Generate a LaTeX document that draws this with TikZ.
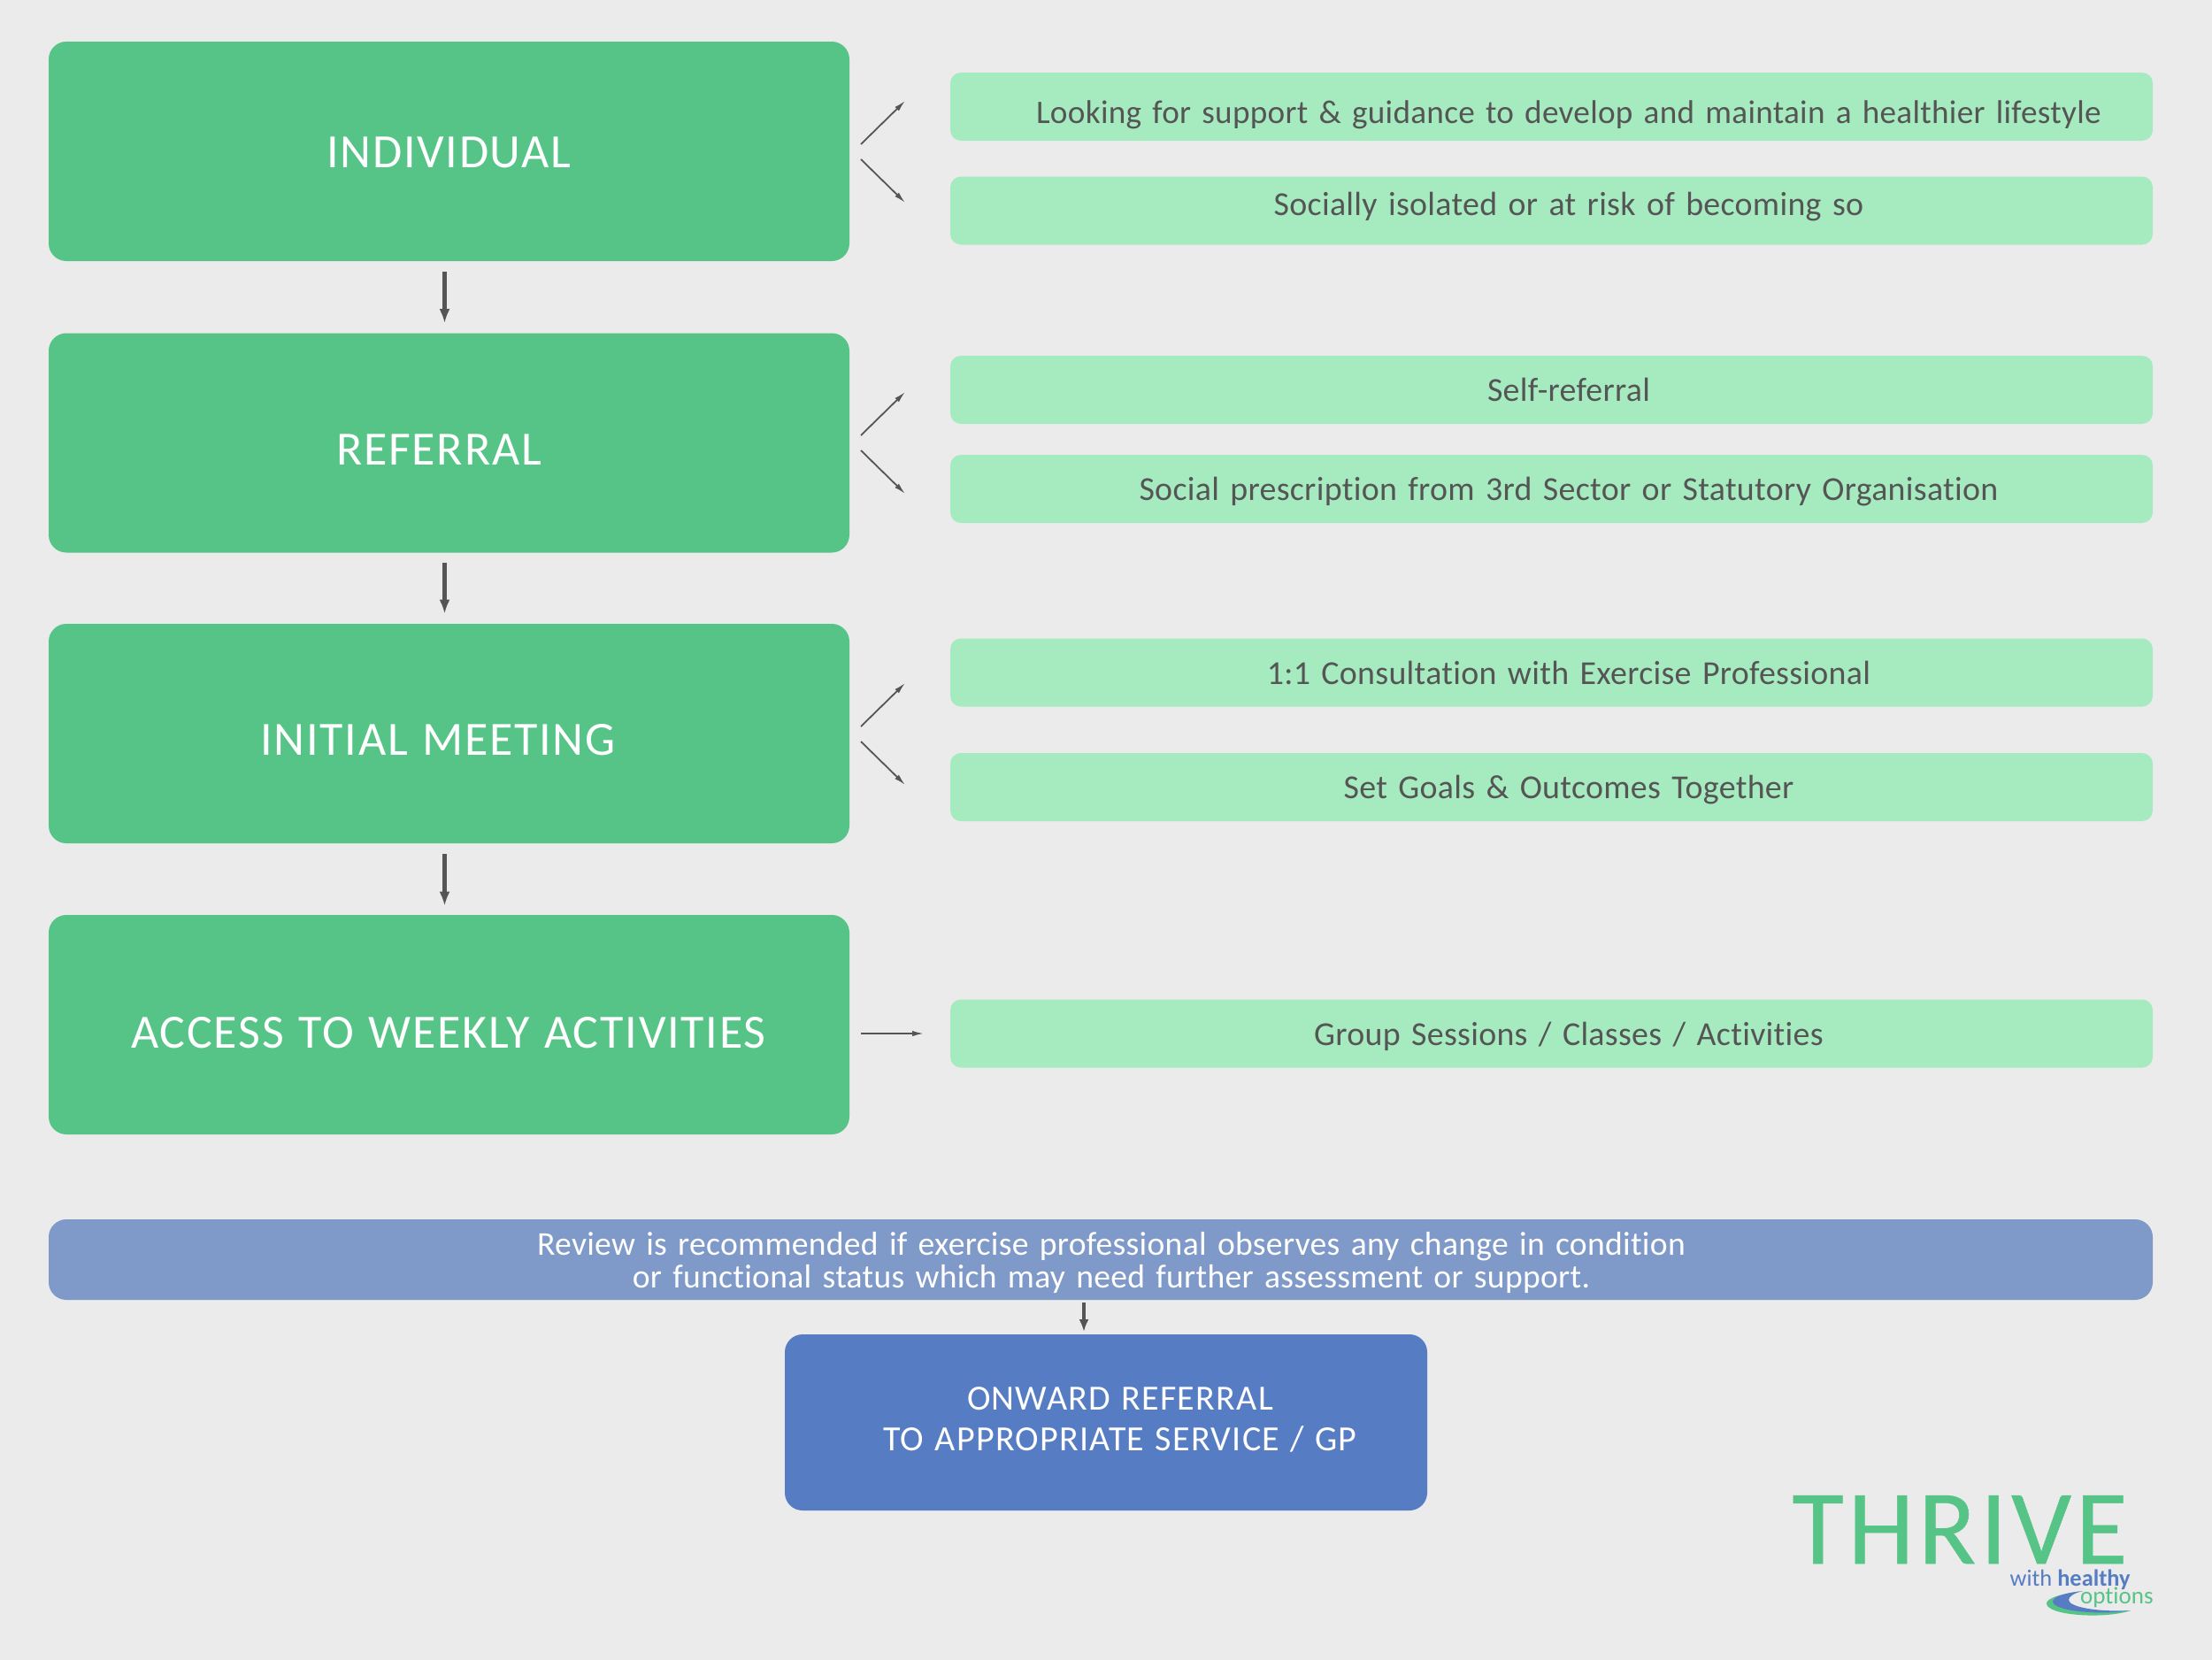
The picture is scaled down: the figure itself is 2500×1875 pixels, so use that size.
\documentclass[tikz,border=0pt]{standalone}
\usepackage{fontspec}
\setmainfont{Carlito}[Ligatures=NoCommon]
\newfontfamily\bodyfont{Carlito}[Ligatures=NoCommon,LetterSpace=0.8,WordSpace=1.4]
\newfontfamily\capsfont{Carlito}[Ligatures=NoCommon,LetterSpace=3.2,WordSpace=1.2]
\newfontfamily\logofont{Carlito}[Ligatures=NoCommon,LetterSpace=4,FakeBold=0.4]
\usetikzlibrary{arrows.meta,calc}
\definecolor{bgc}{HTML}{EBEBEB}
\definecolor{mainc}{HTML}{56C486}
\definecolor{lightc}{HTML}{A6EBC0}
\definecolor{revc}{HTML}{7F9AC9}
\definecolor{onwc}{HTML}{567DC3}
\definecolor{inkc}{HTML}{555555}
\tikzset{
  mainbox/.style={fill=mainc,rounded corners=10pt,minimum width=452.5pt,minimum height=124pt,inner sep=0pt},
  lightbox/.style={fill=lightc,rounded corners=6pt,minimum width=679.5pt,minimum height=38.5pt,inner sep=0pt},
  maintext/.style={text=white,anchor=base,inner sep=0pt,font=\capsfont\fontsize{27}{30}\selectfont},
  lighttext/.style={text=inkc,anchor=base,inner sep=0pt,font=\bodyfont\fontsize{18.95}{22}\selectfont},
  widetext/.style={text=white,anchor=center,inner sep=0pt,align=center},
  thick arrow/.style={draw=inkc,line width=2.5pt,-{Latex[length=8pt,width=6pt]}},
  thin arrow/.style={draw=inkc,line width=0.9pt,-{Latex[length=6.5pt,width=3.2pt]}},
}
\begin{document}
\begin{tikzpicture}[x=0.5pt,y=-0.5pt]
\useasboundingbox (0,0) rectangle (2500,1875);
\fill[bgc] (-10,-10) rectangle (2510,1885);
% main boxes
\node[mainbox] (ind) at (507.5,171) {};
\node[mainbox] (ref) at (507.5,500.5) {};
\node[mainbox] (ini) at (507.5,829) {};
\node[mainbox] (acc) at (507.5,1158) {};
\node[maintext] (indt) at (507,189) {INDIVIDUAL};
\node[maintext] (reft) at (496,525) {REFERRAL};
\node[maintext] (init) at (495,853) {INITIAL MEETING};
\node[maintext] (acct) at (507,1184) {ACCESS TO WEEKLY ACTIVITIES};
% light boxes
\node[lightbox] (l1) at (1753.5,120.5) {};
\node[lightbox] (l2) at (1753.5,238) {};
\node[lightbox] (l3) at (1753.5,440.5) {};
\node[lightbox] (l4) at (1753.5,552.5) {};
\node[lightbox] (l5) at (1753.5,760) {};
\node[lightbox] (l6) at (1753.5,889.5) {};
\node[lightbox] (l7) at (1753.5,1168) {};
\node[lighttext,font=\bodyfont\fontsize{18.6}{22}\selectfont] (l1t) at (1773,139.5) {Looking for support \& guidance to develop and maintain a healthier lifestyle};
\node[lighttext] (l2t) at (1773,243.5) {Socially isolated or at risk of becoming so};
\node[lighttext] (l3t) at (1773,453.5) {Self-referral};
\node[lighttext] (l4t) at (1773,565.5) {Social prescription from 3rd Sector or Statutory Organisation};
\node[lighttext] (l5t) at (1773,773.5) {1:1 Consultation with Exercise Professional};
\node[lighttext] (l6t) at (1773,902.5) {Set Goals \& Outcomes Together};
\node[lighttext] (l7t) at (1773,1181.5) {Group Sessions / Classes / Activities};
% review / onward
\node[fill=revc,rounded corners=10pt,minimum width=1189pt,minimum height=45.5pt,inner sep=0pt] (rev) at (1244,1423.5) {};
\node[fill=onwc,rounded corners=10pt,minimum width=363pt,minimum height=99.5pt,inner sep=0pt] (onw) at (1250,1607.5) {};
\node[widetext,font=\bodyfont\fontsize{18.8}{18.5}\selectfont] (revt) at (1256,1426.5) {Review is recommended if exercise professional observes any change in condition\\or functional status which may need further assessment or support.};
\node[widetext,font=\capsfont\fontsize{20}{23}\selectfont] (onwt) at (1266,1604) {ONWARD REFERRAL\\TO APPROPRIATE SERVICE / GP};
% vertical arrows
\coordinate (a1s) at ($(ind.south)+(-5,12)$); \coordinate (a1e) at ($(ref.north)+(-5,-11)$);
\coordinate (a2s) at ($(ref.south)+(-5,11)$); \coordinate (a2e) at ($(ini.north)+(-5,-11)$);
\coordinate (a3s) at ($(ini.south)+(-5,12)$); \coordinate (a3e) at ($(acc.north)+(-5,-10)$);
\draw[thick arrow] (a1s) -- (a1e);
\draw[thick arrow] (a2s) -- (a2e);
\draw[thick arrow] (a3s) -- (a3e);
\coordinate (a4s) at (1225,1472); \coordinate (a4e) at (1225,1505);
\draw[thick arrow,line width=2pt,-{Latex[length=7pt,width=5.5pt]}] (a4s) -- (a4e);
% thin arrows
\foreach \b/\dy in {ind/0,ref/329,ini/658}{
  \coordinate (\b u) at (973,163+\dy); \coordinate (\b ue) at (1023,114+\dy);
  \coordinate (\b d) at (973,180+\dy); \coordinate (\b de) at (1023,229+\dy);
  \draw[thin arrow] (\b u) -- (\b ue);
  \draw[thin arrow] (\b d) -- (\b de);
}
\coordinate (as) at (973,1168); \coordinate (ae) at (1044,1168);
\draw[thin arrow] (as) -- (ae);
% logo
\node[text=mainc,anchor=base west,inner sep=0pt,font=\logofont\fontsize{60}{60}\selectfont] (thr) at (2025,1767) {THRIVE};
\node[anchor=base east,inner sep=0pt,font=\fontsize{13.2}{13}\selectfont] (wh) at (2408,1792) {\textcolor{onwc}{with \textbf{healthy}}};
\fill[mainc] (2354,1798) .. controls (2330,1801) and (2313,1806) .. (2313,1812) .. controls (2313,1826) and (2380,1830) .. (2408,1820) .. controls (2370,1824) and (2322,1820) .. (2322,1810) .. controls (2322,1804) and (2340,1800) .. (2354,1798) -- cycle;
\fill[onwc] (2354,1798) .. controls (2335,1800) and (2320,1804) .. (2320,1810) .. controls (2320,1820) and (2370,1826) .. (2408,1820) .. controls (2370,1822) and (2338,1816) .. (2338,1808) .. controls (2338,1804) and (2345,1800) .. (2354,1798) -- cycle;
\node[text=mainc,anchor=base east,inner sep=0pt,font=\fontsize{13.5}{13}\selectfont] (op) at (2434,1812) {options};
\end{tikzpicture}
\end{document}
